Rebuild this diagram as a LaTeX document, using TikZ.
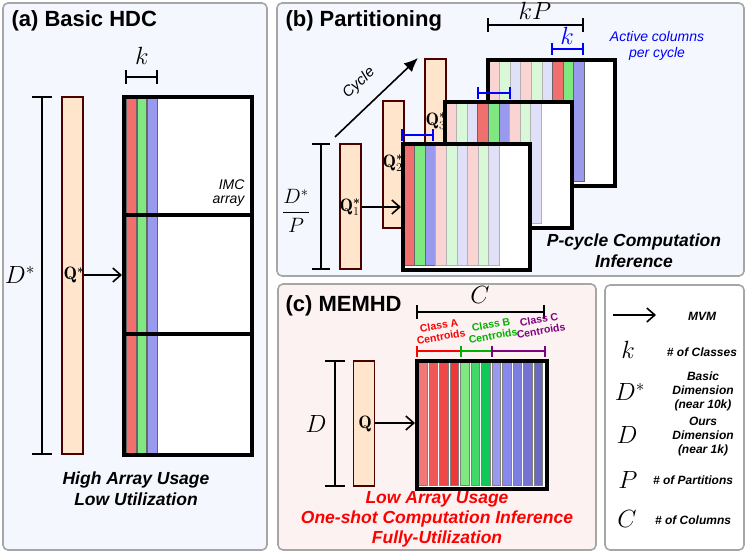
\documentclass[tikz,border=0pt]{standalone}
\usepackage{amsmath}
\usepackage{fontspec}
\setsansfont{Liberation Sans}
\usetikzlibrary{arrows.meta}
\begin{document}
\begin{tikzpicture}[x=1pt,y=-1pt,
 panel/.style={draw=gray!70,line width=1.6pt,rounded corners=5pt},
 ttl/.style={font=\sffamily\bfseries\fontsize{22}{22}\selectfont,anchor=west},
 bi/.style={font=\sffamily\bfseries\itshape\fontsize{17.5}{21}\selectfont,align=center},
 leg/.style={font=\sffamily\bfseries\itshape\fontsize{12}{14}\selectfont,align=center},
 mth/.style={font=\fontsize{24}{24}\selectfont},
 ql/.style={font=\fontsize{18}{18}\selectfont},
 qbar/.style={draw=black!70!red,fill=orange!20,line width=1.3pt,inner sep=0pt,minimum width=21pt},
 dim/.style={line width=1.5pt},
 arr/.style={->,line width=1.6pt,>={Straight Barb[length=8pt,width=14pt]}},
 frame/.style={draw,line width=4pt,inner sep=0pt}]
\definecolor{cr}{HTML}{F07070}\definecolor{cg}{HTML}{80E880}\definecolor{cb}{HTML}{9999EE}
\useasboundingbox (0,0) rectangle (746,552);
% panels
\draw[panel,fill={rgb,255:red,244;green,247;blue,253}] (3,3) rectangle (267,550);
\draw[panel,fill={rgb,255:red,244;green,247;blue,253}] (277,3) rectangle (744,276);
\draw[panel,fill={rgb,255:red,253;green,242;blue,242}] (278,284) rectangle (596,550);
\draw[panel,fill=white] (605,285) rectangle (744,550);
% ---- (a)
\node[ttl] (ta) at (8,21) {(a) Basic HDC};
\draw[dim] (126,70)--(126,84) (126,77)--(157,77) (157,70)--(157,84);
\node[mth] (ka) at (142,56) {$k$};
\draw[dim] (32,97)--(52,97) (42,97)--(42,454) (32,454)--(52,454);
\node[mth] (Da) at (20,275) {$D^*$};
\node[qbar,minimum height=357pt] (Qa) at (72.5,275.5) {};
\node[ql] (Qla) at (74,275) {$\mathbf{Q}^{\boldsymbol *}$};
\foreach \ya/\yb in {97/215,215/334,334/454}{
  \fill[white] (124,\ya) rectangle (252,\yb);
  \fill[cr,draw=black!60] (126,\ya) rectangle (136,\yb);
  \fill[cg,draw=black!60] (137,\ya) rectangle (146,\yb);
  \fill[cb,draw=black!60] (147,\ya) rectangle (157,\yb);}
\node[frame,minimum width=128pt,minimum height=358pt] (Aa) at (188,275.5) {};
\draw[line width=3.2pt] (124,215)--(252,215) (124,334)--(252,334);
\node[font=\sffamily\itshape\fontsize{14}{14}\selectfont,align=right,anchor=east] (imc) at (248,193) {IMC\\array};
\draw[arr] (Qa.east |- 0,275) -- (Aa.west |- 0,275);
\node[bi] (txa) at (136,489) {High Array Usage\\Low Utilization};
% ---- (b)
\node[ttl] (tb) at (282,21) {(b) Partitioning};
\draw[dim] (488,18)--(488,32) (488,25)--(583,25) (583,18)--(583,32);
\node[mth] (kP) at (535,11) {$kP$};
\draw[blue,line width=1.7pt] (552,43)--(552,55) (552,49)--(583,49) (583,43)--(583,55);
\node[mth,blue] (kb) at (567,36) {$k$};
\node[blue,font=\sffamily\itshape\fontsize{14}{16}\selectfont,align=center] (act) at (657,46) {Active columns\\per cycle};
\coordinate (c0) at (335,137); \coordinate (c1) at (418,58);
\draw[line width=1.6pt,-{Latex[length=14pt,width=12pt]}] (c0)--(c1);
\node[rotate=43,font=\sffamily\itshape\fontsize{15}{15}\selectfont] (cyc) at (359,83) {Cycle};
\draw[dim] (312,144)--(330,144) (321,144)--(321,269) (312,269)--(330,269);
\node[font=\fontsize{20}{20}\selectfont] (Dp) at (296,211) {$\dfrac{D^*}{P}$};
\node[qbar,minimum height=125pt] (Q1) at (350.5,206.5) {};
\node[qbar,minimum height=127pt] (Q2) at (393.5,164.5) {};
\node[qbar,minimum height=126pt] (Q3) at (435.5,122) {};
\node[ql] (Q3l) at (436,121) {$\mathbf{Q}_3^{\boldsymbol *}$};
\newcommand\parr[4]{% x0 y0 active-group name
  \fill[white] (#1,#2) rectangle ++(127,126);
  \foreach \i in {0,...,8}{
    \pgfmathtruncatemacro\m{mod(\i,3)}\pgfmathtruncatemacro\g{int(\i/3)}
    \ifnum\g=#3 \def\op{1}\def\dd{black!60}\else\def\op{0.3}\def\dd{black!30}\fi
    \ifcase\m \def\cc{cr}\or\def\cc{cg}\or\def\cc{cb}\fi
    \fill[\cc,fill opacity=\op,draw=\dd,line width=0.8pt] ({#1+3+\i*10.6},#2+3) rectangle ++(10.6,120);}
  \node[frame,minimum width=127pt,minimum height=126pt,anchor=north west] (#4) at (#1,#2) {};}
\parr{486}{58}{2}{Ab3}
\parr{443}{100}{1}{Ab2}
\node[ql] (Q2l) at (393,163) {$\mathbf{Q}_2^{\boldsymbol *}$};
\parr{401}{142}{0}{Ab1}
\node[ql] (Q1l) at (350,207) {$\mathbf{Q}_1^{\boldsymbol *}$};
\draw[arr] (Q1.east |- 0,207) -- (Ab1.west |- 0,207);
\draw[blue,line width=1.7pt] (402,129)--(402,141) (402,135)--(433,135) (433,129)--(433,141);
\draw[blue,line width=1.7pt] (478,87)--(478,99) (478,93)--(510,93) (510,87)--(510,99);
\node[bi] (txb) at (634,251) {P-cycle Computation\\Inference};
% ---- (c)
\node[ttl] (tc) at (282,306) {(c) MEMHD};
\draw[dim] (417,305)--(417,319) (417,312)--(544,312) (544,305)--(544,319);
\node[mth] (Cc) at (480,295) {$C$};
\node[red,rotate=10,font=\sffamily\bfseries\fontsize{10.5}{11.5}\selectfont,align=center] (ca) at (440,331) {Class A\\Centroids};
\node[green!70!black,rotate=10,font=\sffamily\bfseries\fontsize{10.5}{11.5}\selectfont,align=center] (cbl) at (492,330) {Class B\\Centroids};
\node[violet,rotate=10,font=\sffamily\bfseries\fontsize{10.5}{11.5}\selectfont,align=center] (ccl) at (540,325) {Class C\\Centroids};
\draw[red,line width=1.4pt] (417,346)--(417,357) (417,351)--(461,351);
\draw[green!70!black,line width=1.4pt] (461,346)--(461,357) (461,351)--(492,351);
\draw[violet,line width=1.4pt] (492,346)--(492,357) (492,351)--(545,351) (545,346)--(545,357);
\draw[dim] (325,361)--(345,361) (335,361)--(335,486) (325,486)--(345,486);
\node[mth] (Dc) at (316,424) {$D$};
\node[qbar,minimum height=125pt] (Qc) at (364,423.5) {};
\node[ql] (Qcl) at (365,424) {$\mathbf{Q}$};
\fill[white] (415,359) rectangle (545,487);
\foreach \i/\c in {0/F07878,1/F05858,2/F04848,3/F03838,4/80E880,5/40D868,6/10C858,7/9999F0,8/8888EE,9/7E7EE0,10/7474D0,11/6A6AC0}{
  \definecolor{tmp}{HTML}{\c}
  \fill[tmp,draw=black!50] ({418.5+\i*10.5},361) rectangle ++(8.5,124);}
\node[frame,minimum width=130pt,minimum height=128pt,anchor=north west] (Ac) at (415,359) {};
\draw[arr] (Qc.east |- 0,423) -- (Ac.west |- 0,423);
\node[bi,red,font=\sffamily\bfseries\itshape\fontsize{17.5}{20}\selectfont] (txc) at (437,519) {Low Array Usage\\One-shot Computation Inference\\Fully-Utilization};
% ---- legend
\coordinate (m0) at (613,315); \coordinate (m1) at (656,315);
\draw[arr] (m0)--(m1);
\node[leg] (l1) at (702,316) {MVM};
\node[mth] (s2) at (628,350) {$k$}; \node[leg] (l2) at (702,352) {\# of Classes};
\node[mth] (s3) at (630,392) {$D^*$}; \node[leg] (l3) at (703,391) {Basic\\Dimension\\(near 10k)};
\node[mth] (s4) at (627,435) {$D$}; \node[leg] (l4) at (703,437) {Ours\\Dimension\\(near 1k)};
\node[mth] (s5) at (628,480) {$P$}; \node[leg] (l5) at (693,480) {\# of Partitions};
\node[mth] (s6) at (627,519) {$C$}; \node[leg] (l6) at (693,520) {\# of Columns};
\end{tikzpicture}
\end{document}
